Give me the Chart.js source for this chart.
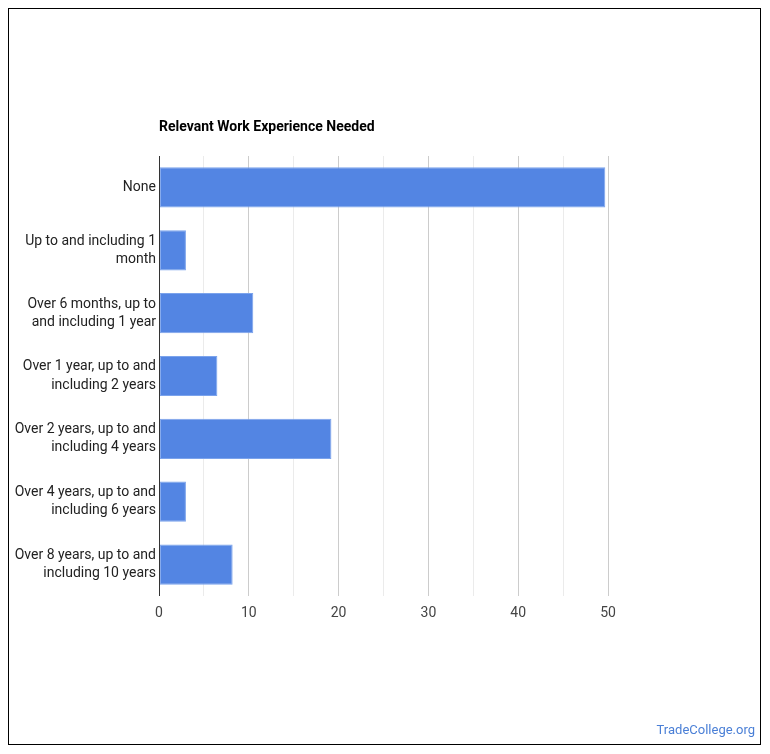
<!DOCTYPE html>
<html>
<head>
<meta charset="utf-8">
<script src="https://cdn.jsdelivr.net/npm/chart.js@4/dist/chart.umd.min.js"></script>
<style>
  body { margin: 0; background: #fff; }
  #wrap { position: relative; width: 770px; height: 754px; }
  #frame { position: absolute; left: 8px; top: 8px; width: 751px; height: 735px; border: 1px solid #000; pointer-events: none; }
</style>
</head>
<body>
<div id="wrap">
  <canvas id="chart" width="770" height="754"></canvas>
  <div id="frame"></div>
</div>
<script>
const categories = [
  'None',
  ['Up to and including 1', 'month'],
  ['Over 6 months, up to', 'and including 1 year'],
  ['Over 1 year, up to and', 'including 2 years'],
  ['Over 2 years, up to and', 'including 4 years'],
  ['Over 4 years, up to and', 'including 6 years'],
  ['Over 8 years, up to and', 'including 10 years']
];
const percentages = [49.7, 3.0, 10.5, 6.5, 19.2, 3.0, 8.2];
const tickValues = [0, 10, 20, 30, 40, 50];

const extras = {
  id: 'extras',
  afterDraw(chart) {
    const ctx = chart.ctx;
    const area = chart.chartArea;
    ctx.save();
    ctx.font = 'bold 14px Roboto';
    ctx.fillStyle = '#000';
    ctx.textBaseline = 'middle';
    ctx.textAlign = 'left';
    ctx.fillText('Relevant Work Experience Needed', area.left, 127);
    ctx.font = '13px Roboto';
    ctx.fillStyle = '#4a7fd6';
    ctx.textAlign = 'right';
    ctx.fillText('TradeCollege.org', 755, 731);
    // axis line at zero
    ctx.strokeStyle = '#333';
    ctx.lineWidth = 1;
    ctx.beginPath();
    ctx.moveTo(area.left + 0.5, area.top);
    ctx.lineTo(area.left + 0.5, area.bottom);
    ctx.stroke();
    ctx.restore();
  }
};

new Chart(document.getElementById('chart').getContext('2d'), {
  type: 'bar',
  data: {
    labels: categories,
    datasets: [{
      data: percentages,
      backgroundColor: '#5385e3',
      borderColor: '#7ba3ec',
      borderWidth: 1,
      borderSkipped: false,
      categoryPercentage: 1,
      barPercentage: 0.64
    }]
  },
  options: {
    indexAxis: 'y',
    responsive: false,
    animation: false,
    layout: { padding: { left: 0, right: 162, top: 156, bottom: 128 } },
    plugins: {
      legend: { display: false },
      title: { display: false },
      tooltip: { enabled: false }
    },
    scales: {
      x: {
        min: 0,
        max: 50,
        border: { display: false },
        afterFit(axis) { axis.height = 30; },
        afterBuildTicks(axis) {
          const t = [];
          for (let v = 0; v <= 50; v += 5) t.push({ value: v });
          axis.ticks = t;
        },
        grid: {
          drawTicks: false,
          color: c => (c.tick && c.tick.value % 10 === 0) ? '#cccccc' : '#ebebeb'
        },
        ticks: {
          padding: 9,
          color: '#444',
          font: { family: 'Roboto', size: 14 },
          callback: v => tickValues.includes(v) ? String(v) : ''
        }
      },
      y: {
        border: { display: false },
        afterFit(axis) { axis.width = 159; },
        grid: { display: false, drawTicks: false },
        ticks: {
          padding: 3,
          color: '#222',
          font: { family: 'Roboto', size: 14, lineHeight: 1.29 }
        }
      }
    }
  },
  plugins: [extras]
});
</script>
</body>
</html>
